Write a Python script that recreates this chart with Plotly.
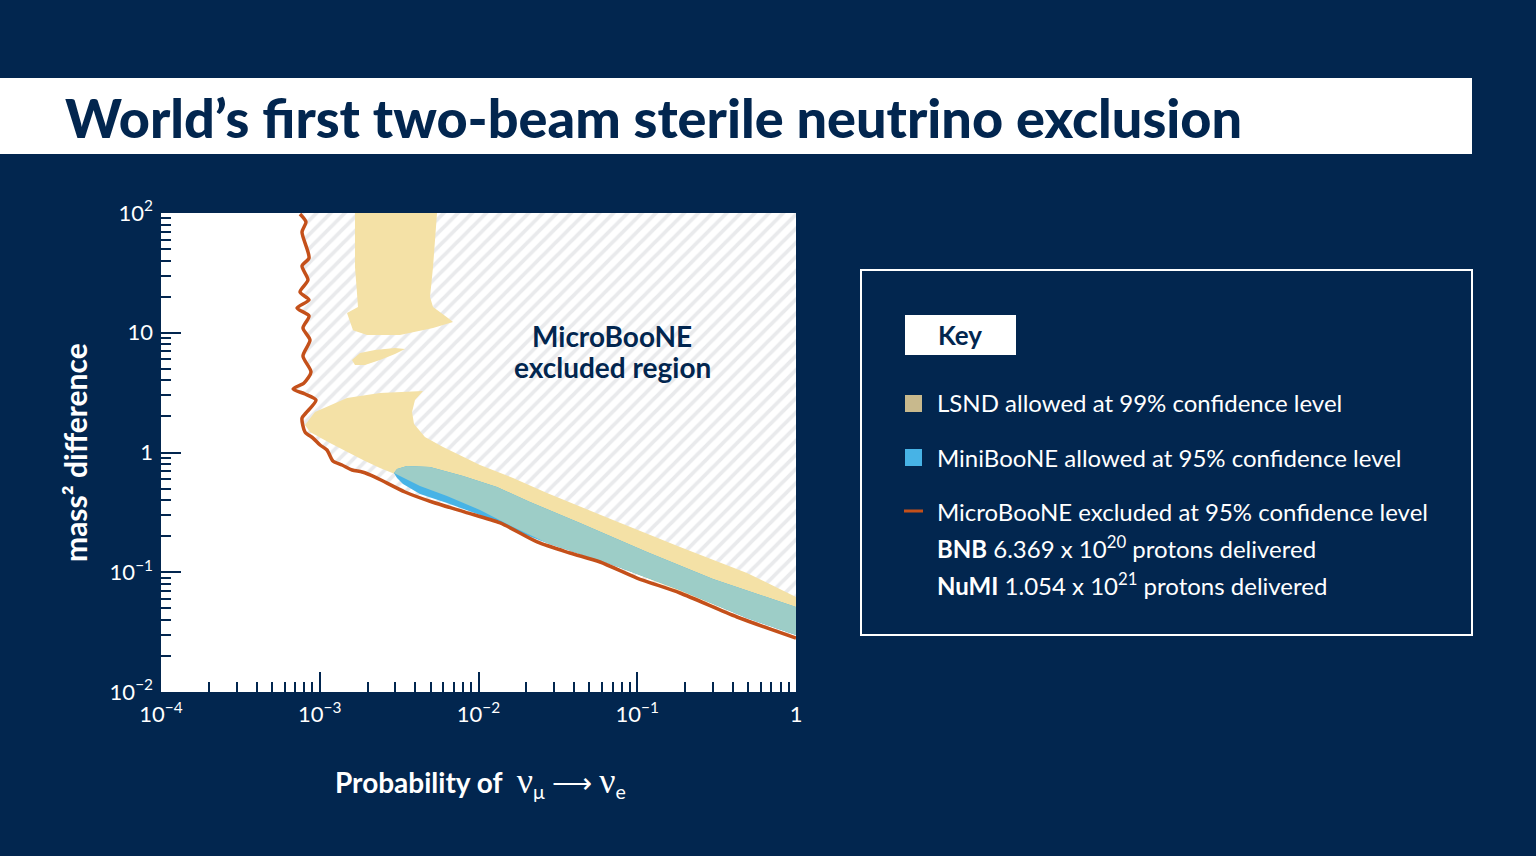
import plotly.graph_objects as go

NAVY = "#02264f"
WHITE = "#ffffff"
ORANGE = "#c4501a"
YELLOW = "#f4e1a6"
BLUE = "#47b3e6"
TEAL = "#9dcdc7"
HATCH = "#d4d6da"
FONT = "Lato"

# MicroBooNE 95% CL exclusion contour (probability, mass^2 difference)
micro_x = [7.51e-4, 8.19e-4, 7.73e-4, 8.56e-4, 7.73e-4, 8.43e-4, 7.51e-4, 8.56e-4,
           7.19e-4, 8.56e-4, 7.84e-4, 8.68e-4, 7.84e-4, 8.81e-4, 7.96e-4, 6.79e-4,
           8.08e-4, 9.47e-4, 8.19e-4, 7.73e-4, 8.08e-4, 9.07e-4, 1.004e-3, 1.11e-3,
           1.21e-3, 1.38e-3, 1.60e-3, 1.85e-3, 2.23e-3, 2.50e-3, 3.44e-3, 5.10e-3,
           8.22e-3, 1.37e-2, 2.34e-2, 3.77e-2, 5.83e-2, 9.96e-2, 0.186, 0.425, 1.0]
micro_y = [98.1, 84.1, 69.4, 42.1, 36.1, 27.6, 21.9, 18.8,
           16.1, 13.8, 10.96, 8.70, 6.40, 4.70, 3.81, 3.39,
           3.08, 2.74, 2.14, 1.94, 1.48, 1.32, 1.155, 1.049,
           0.849, 0.786, 0.714, 0.687, 0.624, 0.578, 0.468, 0.386,
           0.318, 0.258, 0.179, 0.1448, 0.1218, 0.0895, 0.0671, 0.0423, 0.0282]

# LSND 99% CL allowed islands
lsnd_a_x = [1.667e-3, 1.667e-3, 1.716e-3, 1.741e-3, 1.485e-3, 1.620e-3, 1.984e-3, 3.20e-3,
            5.17e-3, 6.91e-3, 6.33e-3, 5.17e-3, 4.95e-3, 5.17e-3, 5.48e-3]
lsnd_a_y = [100, 35.4, 21.5, 16.4, 14.6, 10.5, 9.58, 9.58,
            10.96, 12.3, 13.5, 16.4, 19.9, 35.4, 100]

lsnd_b_x = [1.596e-3, 1.793e-3, 2.228e-3, 2.979e-3, 3.443e-3, 2.979e-3, 2.395e-3, 1.928e-3, 1.667e-3]
lsnd_b_y = [5.92, 6.78, 7.18, 7.46, 7.32, 6.65, 5.92, 5.38, 5.38]

lsnd_c_x = [8.07e-4, 9.33e-4, 1.485e-3, 2.395e-3, 4.47e-3, 3.98e-3, 3.813e-3, 3.925e-3,
            4.60e-3, 5.98e-3, 1.022e-2, 1.65e-2, 2.70e-2, 7.04e-2, 0.186, 0.491,
            1.0, 1.0, 0.491, 0.186, 7.04e-2, 2.70e-2, 1.65e-2, 1.022e-2,
            6.33e-3, 4.28e-3, 3.2e-3, 2.395e-3, 1.873e-3, 1.16e-3, 8.68e-4]
lsnd_c_y = [1.70, 2.18, 2.85, 3.14, 3.26, 2.74, 2.18, 1.73,
            1.35, 1.11, 0.786, 0.613, 0.459, 0.273, 0.1625, 0.0986,
            0.0621, 0.0299, 0.0415, 0.0697, 0.115, 0.1756, 0.2387, 0.3311,
            0.4332, 0.5253, 0.6364, 0.742, 0.866, 1.20, 1.483]

# MiniBooNE 95% CL allowed region
mini_x = [2.935e-3, 3.067e-3, 3.545e-3, 4.95e-3, 7.99e-3, 1.307e-2, 2.111e-2, 4.36e-2,
          0.1152, 0.300, 1.0, 1.0, 0.491, 0.186, 7.04e-2, 2.70e-2,
          1.65e-2, 1.022e-2, 6.33e-3, 4.28e-3, 3.345e-3, 3.067e-3]
mini_y = [0.674, 0.728, 0.771, 0.757, 0.636, 0.515, 0.386, 0.258,
          0.1476, 0.0878, 0.0513, 0.0299, 0.0415, 0.0711, 0.115, 0.1756,
          0.2254, 0.3007, 0.3789, 0.4502, 0.546, 0.613]

# part of MiniBooNE region that overlaps LSND
both_x = [2.935e-3, 3.067e-3, 3.545e-3, 4.95e-3, 7.99e-3, 1.307e-2, 2.111e-2, 4.36e-2,
          0.1152, 0.300, 1.0, 1.0, 0.491, 0.186, 7.04e-2, 2.70e-2,
          1.65e-2, 1.022e-2, 6.33e-3, 4.28e-3, 3.2e-3]
both_y = [0.674, 0.728, 0.771, 0.757, 0.636, 0.515, 0.386, 0.258,
          0.1476, 0.0878, 0.0513, 0.0299, 0.0415, 0.0711, 0.115, 0.1756,
          0.2387, 0.3311, 0.4332, 0.5253, 0.6364]

x_ticks = [1e-4, 1e-3, 1e-2, 1e-1, 1]
x_labels = ["10<sup>−4</sup>", "10<sup>−3</sup>", "10<sup>−2</sup>", "10<sup>−1</sup>", "1"]
y_ticks = [1e-2, 1e-1, 1, 10, 100]
y_labels = ["10<sup>−2</sup>", "10<sup>−1</sup>", "1", "10", "10<sup>2</sup>"]

x_minor = [m * 10 ** k for k in range(-4, 0) for m in range(2, 10)]
y_minor = [m * 10 ** k for k in range(-2, 2) for m in range(2, 10)]

key_labels = ["LSND allowed at 99% confidence level",
              "MiniBooNE allowed at 95% confidence level",
              "MicroBooNE excluded at 95% confidence level",
              "<b>BNB</b> 6.369 x 10<sup>20</sup> protons delivered",
              "<b>NuMI</b> 1.054 x 10<sup>21</sup> protons delivered"]
key_swatches = ["#c8b98d", BLUE, ORANGE]

W, H = 1536, 856


def px(x):
    return x / W


def py(y):
    return 1 - y / H


fig = go.Figure()

# hatched excluded region to the right of the contour
fig.add_trace(go.Scatter(
    x=micro_x + [1.0, micro_x[0]], y=micro_y + [100, 100],
    fill="toself", mode="none", fillcolor=WHITE,
    fillpattern=dict(shape="/", fgcolor=HATCH, bgcolor=WHITE, size=10, solidity=0.38),
    hoverinfo="skip"))

for xs, ys in [(lsnd_a_x, lsnd_a_y), (lsnd_b_x, lsnd_b_y), (lsnd_c_x, lsnd_c_y)]:
    fig.add_trace(go.Scatter(x=xs, y=ys, fill="toself", mode="none",
                             fillcolor=YELLOW, hoverinfo="skip"))

fig.add_trace(go.Scatter(x=mini_x, y=mini_y, fill="toself", mode="none",
                         fillcolor=BLUE, hoverinfo="skip"))
fig.add_trace(go.Scatter(x=both_x, y=both_y, fill="toself", mode="none",
                         fillcolor=TEAL, hoverinfo="skip"))

fig.add_trace(go.Scatter(x=micro_x, y=micro_y, mode="lines",
                         line=dict(color=ORANGE, width=3.5, shape="spline", smoothing=0.7),
                         hoverinfo="skip"))

axis_common = dict(
    type="log", showgrid=False, zeroline=False, showline=False, automargin=False,
    ticks="inside", ticklen=20, tickwidth=2, tickcolor=NAVY,
    tickmode="array", fixedrange=True, ticklabelstandoff=7,
    tickfont=dict(family=FONT, size=22, color=WHITE),
)

fig.update_xaxes(range=[-4, 0], domain=[px(161), px(796)],
                 tickvals=x_ticks, ticktext=x_labels,
                 minor=dict(tickmode="array", tickvals=x_minor, ticks="inside",
                            ticklen=10, tickwidth=2, tickcolor=NAVY),
                 **axis_common)
fig.update_yaxes(range=[-2, 2], domain=[py(692), py(213)],
                 tickvals=y_ticks, ticktext=y_labels,
                 minor=dict(tickmode="array", tickvals=y_minor, ticks="inside",
                            ticklen=10, tickwidth=2, tickcolor=NAVY),
                 **axis_common)

shapes = [
    dict(type="rect", xref="paper", yref="paper", x0=0, x1=px(1472), y0=py(154), y1=py(78),
         fillcolor=WHITE, line=dict(width=0), layer="below"),
    dict(type="rect", xref="paper", yref="paper", x0=px(861), x1=px(1472), y0=py(635), y1=py(270),
         fillcolor="rgba(0,0,0,0)", line=dict(color=WHITE, width=2)),
    dict(type="rect", xref="paper", yref="paper", x0=px(905), x1=px(1016), y0=py(355), y1=py(315),
         fillcolor=WHITE, line=dict(width=0)),
    dict(type="rect", xref="paper", yref="paper", x0=px(905), x1=px(922), y0=py(412), y1=py(395),
         fillcolor=key_swatches[0], line=dict(width=0)),
    dict(type="rect", xref="paper", yref="paper", x0=px(905), x1=px(922), y0=py(466), y1=py(449),
         fillcolor=key_swatches[1], line=dict(width=0)),
    dict(type="line", xref="paper", yref="paper", x0=px(904), x1=px(923), y0=py(511), y1=py(511),
         line=dict(color=key_swatches[2], width=3)),
]

nu = '<span style="font-family:Liberation Serif;font-size:36px">ν</span>'
annotations = [
    dict(text="World’s first two-beam sterile neutrino exclusion", x=px(63), y=py(117),
         xanchor="left", yanchor="middle", font=dict(family=FONT, size=54, color=NAVY, weight=900)),
    dict(text="<b>MicroBooNE</b>", x=px(612), y=py(336),
         xanchor="center", yanchor="middle", font=dict(family=FONT, size=28, color=NAVY)),
    dict(text="<b>excluded region</b>", x=px(612), y=py(367),
         xanchor="center", yanchor="middle", font=dict(family=FONT, size=28, color=NAVY)),
    dict(text="<b>mass² difference</b>", x=px(75), y=py(453), textangle=-90,
         xanchor="center", yanchor="middle", font=dict(family=FONT, size=30, color=WHITE)),
    dict(text="<b>Probability of</b>  " + nu + "<sub>μ</sub> ⟶ " + nu + "<sub>e</sub>",
         x=px(480), y=py(782),
         xanchor="center", yanchor="middle", font=dict(family=FONT, size=28, color=WHITE)),
    dict(text="<b>Key</b>", x=px(960), y=py(335), xanchor="center", yanchor="middle",
         font=dict(family=FONT, size=26, color=NAVY)),
]
for label, yc in zip(key_labels, [403, 457, 511, 547, 584]):
    annotations.append(dict(text=label, x=px(935), y=py(yc), xanchor="left", yanchor="middle",
                            font=dict(family=FONT, size=24, color=WHITE)))

for a in annotations:
    a.update(xref="paper", yref="paper", showarrow=False)

fig.update_layout(
    width=W, height=H, margin=dict(l=0, r=0, t=0, b=0, pad=0, autoexpand=False),
    paper_bgcolor=NAVY, plot_bgcolor=WHITE, showlegend=False,
    shapes=shapes, annotations=annotations,
)

fig.write_html("out.html", config={"displayModeBar": False},
               post_script="document.body.style.margin='0';document.body.style.overflow='hidden';")
